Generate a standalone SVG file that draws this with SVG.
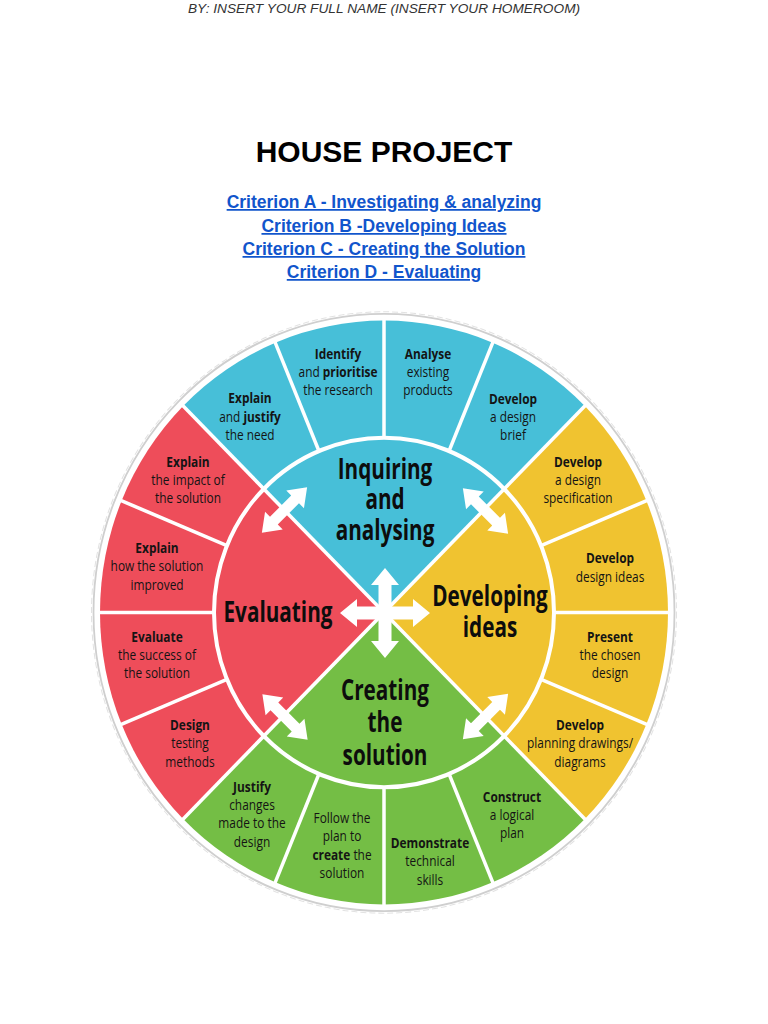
<svg xmlns="http://www.w3.org/2000/svg" width="768" height="1024" viewBox="0 0 768 1024">
<defs>
<style>
.hdr{font-family:"Liberation Sans",Arial,sans-serif;}
.by{font-size:13.7px;font-style:italic;fill:#333;text-anchor:middle}
.title{font-size:30px;font-weight:700;fill:#000;text-anchor:middle}
.link{font-size:17.5px;font-weight:700;fill:#1155CC;text-anchor:middle;text-decoration:underline}
.seg{font-family:"Open Sans","Noto Sans","Liberation Sans",sans-serif;font-size:14.5px;fill:#141414;text-anchor:middle}
.b{font-weight:700}
.core{font-family:"Open Sans","Noto Sans","Liberation Sans",sans-serif;font-size:28px;font-weight:700;fill:#0d0d0d;text-anchor:middle}
.sep{stroke:#fff;stroke-width:3.5;fill:none}
.arrow{fill:#fff}
</style>
<polygon id="dbl" points="-32,0 -15,-12.5 -15,-5.5 15,-5.5 15,-12.5 32,0 15,12.5 15,5.5 -15,5.5 -15,12.5"/>
</defs>
<rect width="768" height="1024" fill="#fff"/>
<text class="hdr by" x="384" y="13">BY: INSERT YOUR FULL NAME (INSERT YOUR HOMEROOM)</text>
<text class="hdr title" x="384" y="162">HOUSE PROJECT</text>
<text class="hdr link" x="384" y="208">Criterion A - Investigating &amp; analyzing</text>
<text class="hdr link" x="384" y="232">Criterion B -Developing Ideas</text>
<text class="hdr link" x="384" y="255">Criterion C - Creating the Solution</text>
<text class="hdr link" x="384" y="278">Criterion D - Evaluating</text>

<g id="wheel" transform="translate(384 612.5) scale(1 1.028)">
<circle r="290.5" fill="none" stroke="#cfcfcf" stroke-width="1.8"/>
<circle r="292.5" fill="none" stroke="#e2e2e2" stroke-width="1" stroke-dasharray="6 3"/>
<g id="quadrants">
<path id="q-inquiring" d="M0,0 L-200.82,-200.82 A284,284 0 0 1 200.82,-200.82 Z" fill="#47BFD8"/>
<path id="q-developing" d="M0,0 L200.82,-200.82 A284,284 0 0 1 200.82,200.82 Z" fill="#F0C330"/>
<path id="q-creating" d="M0,0 L200.82,200.82 A284,284 0 0 1 -200.82,200.82 Z" fill="#74BE45"/>
<path id="q-evaluating" d="M0,0 L-200.82,200.82 A284,284 0 0 1 -200.82,-200.82 Z" fill="#EE4D5A"/>
</g>
<g id="separators" class="sep">
<circle r="170" stroke-width="4"/>
<line x1="-202" y1="-202" x2="202" y2="202"/>
<line x1="202" y1="-202" x2="-202" y2="202"/>
<line x1="170" y1="0" x2="285" y2="0"/>
<line x1="157.06" y1="65.06" x2="263.31" y2="109.07"/>
<line x1="65.06" y1="157.06" x2="109.07" y2="263.31"/>
<line x1="0" y1="170" x2="0" y2="285"/>
<line x1="-65.06" y1="157.06" x2="-109.07" y2="263.31"/>
<line x1="-157.06" y1="65.06" x2="-263.31" y2="109.07"/>
<line x1="-170" y1="0" x2="-285" y2="0"/>
<line x1="-157.06" y1="-65.06" x2="-263.31" y2="-109.07"/>
<line x1="-65.06" y1="-157.06" x2="-109.07" y2="-263.31"/>
<line x1="0" y1="-170" x2="0" y2="-285"/>
<line x1="65.06" y1="-157.06" x2="109.07" y2="-263.31"/>
<line x1="157.06" y1="-65.06" x2="263.31" y2="-109.07"/>
</g>
</g>

<g id="connectors" class="arrow">
<polygon id="center-cross" transform="translate(385 613)" points="0,-45 14,-28 6.5,-28 6.5,-6.5 28,-6.5 28,-14 45,0 28,14 28,6.5 6.5,6.5 6.5,28 14,28 0,45 -14,28 -6.5,28 -6.5,6.5 -28,6.5 -28,14 -45,0 -28,-14 -28,-6.5 -6.5,-6.5 -6.5,-28 -14,-28"/>
<use href="#dbl" transform="translate(284.5 510) rotate(-45)"/>
<use href="#dbl" transform="translate(485.5 511) rotate(45)"/>
<use href="#dbl" transform="translate(285 717) rotate(45)"/>
<use href="#dbl" transform="translate(485.5 716.5) rotate(-45)"/>
</g>

<g id="core-inquiring"><text class="core" transform="translate(385 0) scale(0.74 1)"><tspan x="0" y="479">Inquiring</tspan><tspan x="0" y="509.5">and</tspan><tspan x="0" y="540">analysing</tspan></text></g>
<g id="core-developing"><text class="core" transform="translate(490 0) scale(0.74 1)"><tspan x="0" y="606">Developing</tspan><tspan x="0" y="637">ideas</tspan></text></g>
<g id="core-creating"><text class="core" transform="translate(385 0) scale(0.74 1)"><tspan x="0" y="700">Creating</tspan><tspan x="0" y="732">the</tspan><tspan x="0" y="765">solution</tspan></text></g>
<g id="core-evaluating"><text class="core" transform="translate(278 0) scale(0.74 1)"><tspan x="0" y="622">Evaluating</tspan></text></g>

<g id="seg-a1"><text class="seg" transform="translate(250 0) scale(0.82 1)"><tspan x="0" y="403" class="b">Explain</tspan><tspan x="0" y="422">and <tspan class="b">justify</tspan></tspan><tspan x="0" y="440.5">the need</tspan></text></g>
<g id="seg-a2"><text class="seg" transform="translate(338 0) scale(0.82 1)"><tspan x="0" y="359" class="b">Identify</tspan><tspan x="0" y="377.5">and <tspan class="b">prioritise</tspan></tspan><tspan x="0" y="395.5">the research</tspan></text></g>
<g id="seg-a3"><text class="seg" transform="translate(428 0) scale(0.82 1)"><tspan x="0" y="359" class="b">Analyse</tspan><tspan x="0" y="377.5">existing</tspan><tspan x="0" y="395.5">products</tspan></text></g>
<g id="seg-a4"><text class="seg" transform="translate(513 0) scale(0.82 1)"><tspan x="0" y="404" class="b">Develop</tspan><tspan x="0" y="422">a design</tspan><tspan x="0" y="440">brief</tspan></text></g>

<g id="seg-b1"><text class="seg" transform="translate(578 0) scale(0.82 1)"><tspan x="0" y="467" class="b">Develop</tspan><tspan x="0" y="485">a design</tspan><tspan x="0" y="503">specification</tspan></text></g>
<g id="seg-b2"><text class="seg" transform="translate(610 0) scale(0.82 1)"><tspan x="0" y="563" class="b">Develop</tspan><tspan x="0" y="582">design ideas</tspan></text></g>
<g id="seg-b3"><text class="seg" transform="translate(610 0) scale(0.82 1)"><tspan x="0" y="642" class="b">Present</tspan><tspan x="0" y="660">the chosen</tspan><tspan x="0" y="678">design</tspan></text></g>
<g id="seg-b4"><text class="seg" transform="translate(580 0) scale(0.82 1)"><tspan x="0" y="730" class="b">Develop</tspan><tspan x="0" y="748.5">planning drawings/</tspan><tspan x="0" y="767">diagrams</tspan></text></g>

<g id="seg-c1"><text class="seg" transform="translate(512 0) scale(0.82 1)"><tspan x="0" y="802" class="b">Construct</tspan><tspan x="0" y="820">a logical</tspan><tspan x="0" y="838">plan</tspan></text></g>
<g id="seg-c2"><text class="seg" transform="translate(430 0) scale(0.82 1)"><tspan x="0" y="848" class="b">Demonstrate</tspan><tspan x="0" y="866.5">technical</tspan><tspan x="0" y="885">skills</tspan></text></g>
<g id="seg-c3"><text class="seg" transform="translate(342 0) scale(0.82 1)"><tspan x="0" y="823">Follow the</tspan><tspan x="0" y="841.5">plan to</tspan><tspan x="0" y="860"><tspan class="b">create</tspan> the</tspan><tspan x="0" y="878">solution</tspan></text></g>
<g id="seg-c4"><text class="seg" transform="translate(252 0) scale(0.82 1)"><tspan x="0" y="792" class="b">Justify</tspan><tspan x="0" y="810">changes</tspan><tspan x="0" y="828.5">made to the</tspan><tspan x="0" y="847">design</tspan></text></g>

<g id="seg-d1"><text class="seg" transform="translate(190 0) scale(0.82 1)"><tspan x="0" y="730" class="b">Design</tspan><tspan x="0" y="748.5">testing</tspan><tspan x="0" y="767">methods</tspan></text></g>
<g id="seg-d2"><text class="seg" transform="translate(157 0) scale(0.82 1)"><tspan x="0" y="642" class="b">Evaluate</tspan><tspan x="0" y="660">the success of</tspan><tspan x="0" y="678">the solution</tspan></text></g>
<g id="seg-d3"><text class="seg" transform="translate(157 0) scale(0.82 1)"><tspan x="0" y="553" class="b">Explain</tspan><tspan x="0" y="571.5">how the solution</tspan><tspan x="0" y="590">improved</tspan></text></g>
<g id="seg-d4"><text class="seg" transform="translate(188 0) scale(0.82 1)"><tspan x="0" y="467" class="b">Explain</tspan><tspan x="0" y="485">the impact of</tspan><tspan x="0" y="503">the solution</tspan></text></g>
</svg>
